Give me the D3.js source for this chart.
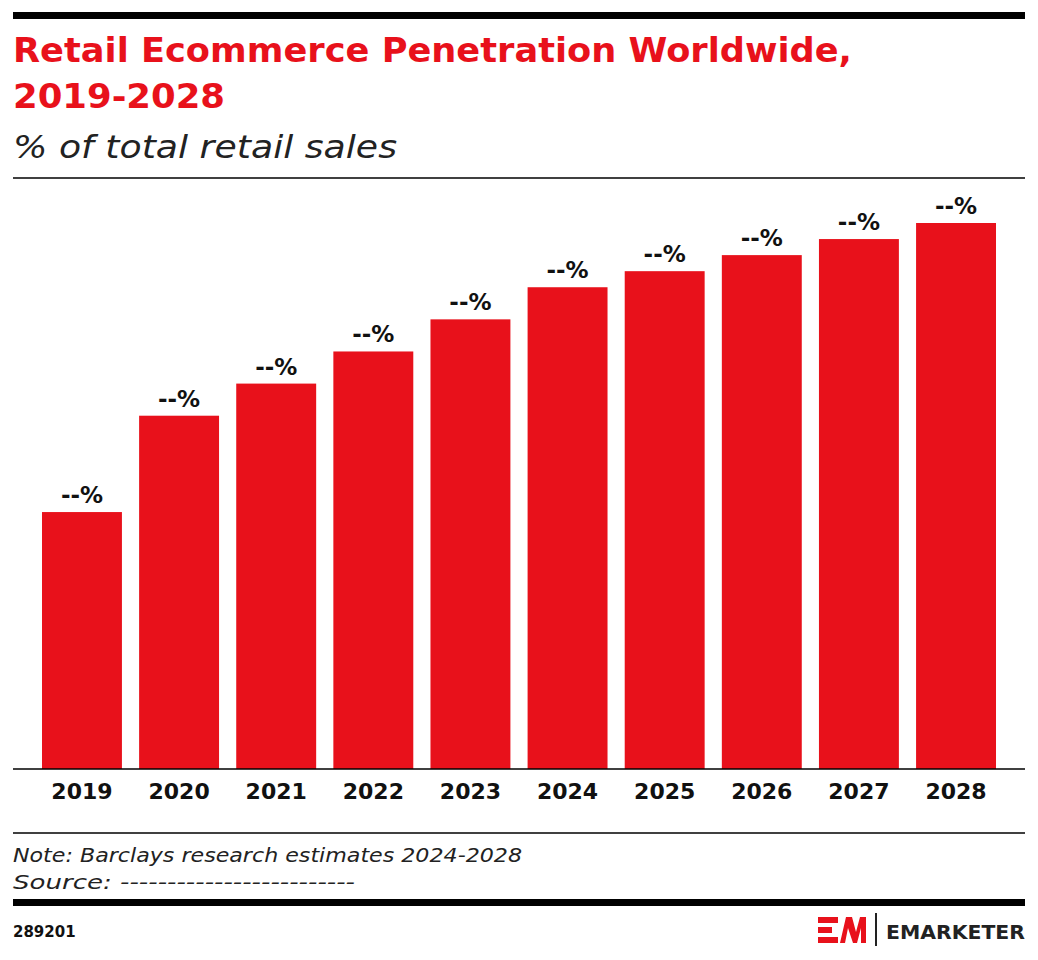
<!DOCTYPE html>
<html><head><meta charset="utf-8">
<script src="https://cdn.jsdelivr.net/npm/d3@7"></script>
<style>body{margin:0;background:#fff}svg{display:block}</style>
</head><body>
<script>
const years = ["2019","2020","2021","2022","2023","2024","2025","2026","2027","2028"];
const values = [16, 22, 24, 26, 28, 30, 31, 32, 33, 34];
const labels = ["--%","--%","--%","--%","--%","--%","--%","--%","--%","--%"];

const W=1038,H=960,F="'DejaVu Sans', sans-serif";
const svg=d3.select("body").append("svg").attr("width",W).attr("height",H);
svg.append("rect").attr("x",13).attr("y",12).attr("width",1012).attr("height",7).attr("fill","#000");
svg.append("text").attr("x",13).attr("y",62).attr("font-family",F).attr("font-weight",700).attr("font-size",33).attr("fill","#e8111b").attr("textLength",839).attr("lengthAdjust","spacingAndGlyphs").text("Retail Ecommerce Penetration Worldwide,");
svg.append("text").attr("x",13).attr("y",108).attr("font-family",F).attr("font-weight",700).attr("font-size",33).attr("fill","#e8111b").attr("textLength",212).attr("lengthAdjust","spacingAndGlyphs").text("2019-2028");
svg.append("text").attr("x",13).attr("y",158).attr("font-family",F).attr("font-style","italic").attr("font-size",32).attr("fill","#222").attr("textLength",384).attr("lengthAdjust","spacingAndGlyphs").text("% of total retail sales");
svg.append("line").attr("x1",13).attr("x2",1025).attr("y1",178).attr("y2",178).attr("stroke","#000").attr("stroke-width",1.5);

const x=d3.scaleBand().domain(years).range([33.4,1004.6]).paddingInner(0.177).paddingOuter(0.0885);
const y=d3.scaleLinear().domain([0,34]).range([769,223]);
svg.selectAll("rect.bar").data(values).join("rect").attr("class","bar")
 .attr("x",(d,i)=>x(years[i])).attr("width",x.bandwidth()).attr("y",d=>y(d)).attr("height",d=>769-y(d)).attr("fill","#e8111b");
svg.selectAll("text.lab").data(values).join("text").attr("class","lab")
 .attr("x",(d,i)=>x(years[i])+x.bandwidth()/2).attr("y",d=>y(d)-9).attr("text-anchor","middle")
 .attr("font-family",F).attr("font-weight",700).attr("font-size",23).attr("fill","#111").text((d,i)=>labels[i]);
const ax=svg.append("g").attr("transform","translate(0,769)").call(d3.axisBottom(x).tickSize(0).tickPadding(14));
ax.select(".domain").remove();
ax.selectAll("text").attr("font-family",F).attr("font-weight",700).attr("font-size",22).attr("fill","#111");
svg.append("line").attr("x1",13).attr("x2",1025).attr("y1",769).attr("y2",769).attr("stroke","#000").attr("stroke-width",1.5);

svg.append("line").attr("x1",13).attr("x2",1025).attr("y1",833).attr("y2",833).attr("stroke","#000").attr("stroke-width",1.5);
svg.append("text").attr("x",13).attr("y",862).attr("font-family",F).attr("font-style","italic").attr("font-size",20).attr("fill","#222").attr("textLength",509).attr("lengthAdjust","spacingAndGlyphs").text("Note: Barclays research estimates 2024-2028");
svg.append("text").attr("x",13).attr("y",889).attr("font-family",F).attr("font-style","italic").attr("font-size",20).attr("fill","#222").attr("textLength",342).attr("lengthAdjust","spacingAndGlyphs").text("Source: -------------------------");
svg.append("rect").attr("x",13).attr("y",899).attr("width",1012).attr("height",7).attr("fill","#000");
svg.append("text").attr("x",13).attr("y",937).attr("font-family",F).attr("font-weight",700).attr("font-size",15).attr("fill","#111").text("289201");
const lg=svg.append("g").attr("fill","#e8111b");
lg.append("rect").attr("x",818).attr("y",917).attr("width",20).attr("height",6);
lg.append("rect").attr("x",818).attr("y",927).attr("width",14).attr("height",6);
lg.append("rect").attr("x",818).attr("y",937).attr("width",20).attr("height",6);
lg.append("path").attr("d","M840,943 L846,917 L852,917 L856,932 L860,917 L866,917 L866,943 L861,943 L861,928 L857,943 L853,943 L848,928 L845,943 Z");
svg.append("line").attr("x1",876).attr("x2",876).attr("y1",913).attr("y2",946).attr("stroke","#222").attr("stroke-width",2);
svg.append("text").attr("x",886).attr("y",939).attr("font-family",F).attr("font-weight",700).attr("font-size",20).attr("fill","#222").attr("textLength",139).attr("lengthAdjust","spacingAndGlyphs").text("EMARKETER");
</script>
</body></html>
